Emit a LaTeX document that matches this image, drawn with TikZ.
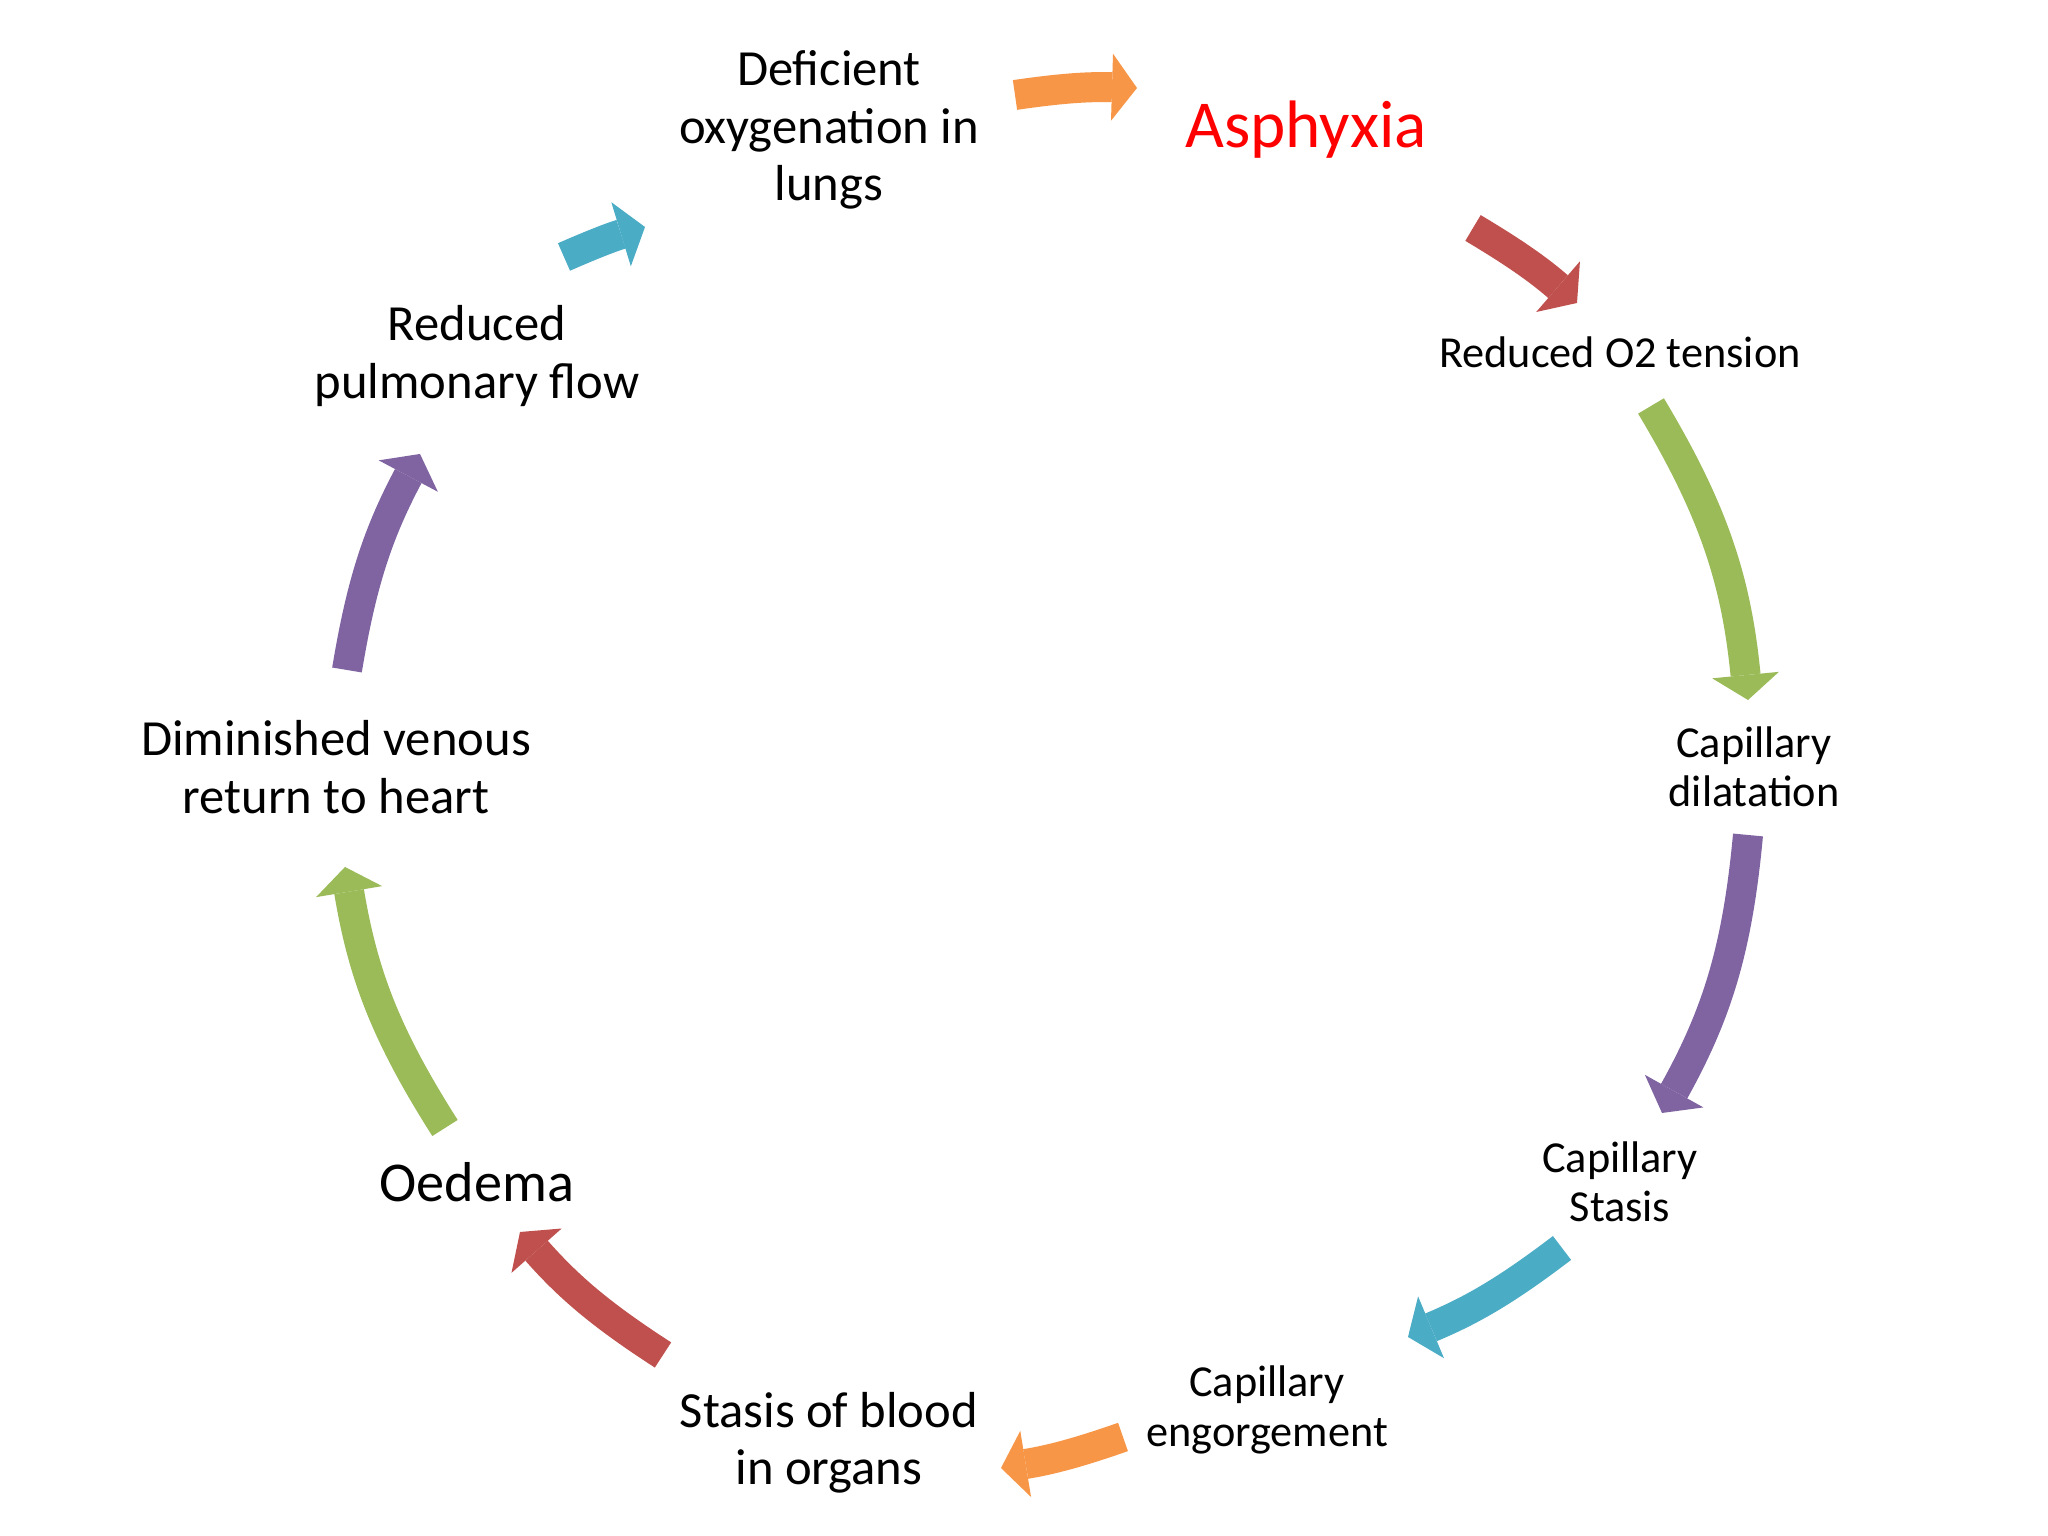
\documentclass[tikz,border=0pt]{standalone}
\usepackage{fontspec}
\setmainfont{Carlito}
\usetikzlibrary{arrows.meta}

\definecolor{arrOrange}{HTML}{F79646}
\definecolor{arrRed}{HTML}{C0504D}
\definecolor{arrGreen}{HTML}{9BBB59}
\definecolor{arrPurple}{HTML}{8064A2}
\definecolor{arrBlue}{HTML}{4BACC6}

\begin{document}
\begin{tikzpicture}[
			txt/.style={align=center, inner sep=0pt, font=\fontsize{14.4}{16.3}\selectfont},
			smalltxt/.style={align=center, inner sep=0pt, font=\fontsize{12.6}{14.1}\selectfont},
			arrow/.style={line width=3mm, -{Triangle[width=6.7mm, length=2.5mm, line width=0pt]}}]
			
			\fill[white] (0,0) rectangle (20.48,15.36);
			\useasboundingbox (0,0) rectangle (20.48,15.36);
			
			% nodes
			\node[txt] (deficient) at (8.29,14.06) {Deficient\\oxygenation in\\lungs};
			\node[inner sep=0pt, text=red, font=\fontsize{19.1}{22}\selectfont] (asphyxia) at (13.06,14.06) {Asphyxia};
			\node[smalltxt] (tension) at (16.20,11.84) {Reduced O2 tension};
			\node[smalltxt] (dilatation) at (17.54,7.69) {Capillary\\dilatation};
			\node[smalltxt] (capstasis) at (16.20,3.54) {Capillary\\Stasis};
			\node[smalltxt] (engorgement) at (12.67,1.26) {Capillary\\engorgement};
			\node[txt] (bloodstasis) at (8.29,0.93) {Stasis of blood\\in organs};
			\node[inner sep=0pt, font=\fontsize{16}{19}\selectfont] (oedema) at (4.77,3.54) {Oedema};
			\node[txt] (venous) at (3.36,7.69) {Diminished venous\\return to heart};
			\node[txt] (pulmonary) at (4.77,11.80) {Reduced\\pulmonary flow};
			
			% arrow ends
			\coordinate (a1s) at (10.15,14.41); \coordinate (a1e) at (11.37,14.48);
			\coordinate (a2s) at (14.73,13.08); \coordinate (a2e) at (15.77,12.33);
			\coordinate (a3s) at (16.51,11.30); \coordinate (a3e) at (17.48,8.36);
			\coordinate (a4s) at (17.48,7.01);  \coordinate (a4e) at (16.62,4.23);
			\coordinate (a5s) at (15.62,2.88);  \coordinate (a5e) at (14.08,1.99);
			\coordinate (a6s) at (11.23,0.99);  \coordinate (a6e) at (10.01,0.68);
			\coordinate (a7s) at (6.63,1.81);   \coordinate (a7e) at (5.20,3.04);
			\coordinate (a8s) at (4.45,4.08);   \coordinate (a8e) at (3.45,6.69);
			\coordinate (a9s) at (3.47,8.66);   \coordinate (a9e) at (4.20,10.82);
			\coordinate (a10s) at (5.64,12.79); \coordinate (a10e) at (6.45,13.09);
			
			% arrows
			\draw[arrow, arrOrange] (a1s) to[bend left=5] (a1e);
			\draw[arrow, arrRed] (a2s) to[bend left=5] (a2e);
			\draw[arrow, arrGreen] (a3s) to[bend left=12.7] (a3e);
			\draw[arrow, arrPurple] (a4s) to[bend left=11.9] (a4e);
			\draw[arrow, arrBlue] (a5s) to[bend left=7.3] (a5e);
			\draw[arrow, arrOrange] (a6s) to[bend left=5] (a6e);
			\draw[arrow, arrRed] (a7s) to[bend left=7.8] (a7e);
			\draw[arrow, arrGreen] (a8s) to[bend left=11.5] (a8e);
			\draw[arrow, arrPurple] (a9s) to[bend left=9.3] (a9e);
			\draw[arrow, arrBlue] (a10s) to[bend left=3.4] (a10e);
			
		\end{tikzpicture}
\end{document}
